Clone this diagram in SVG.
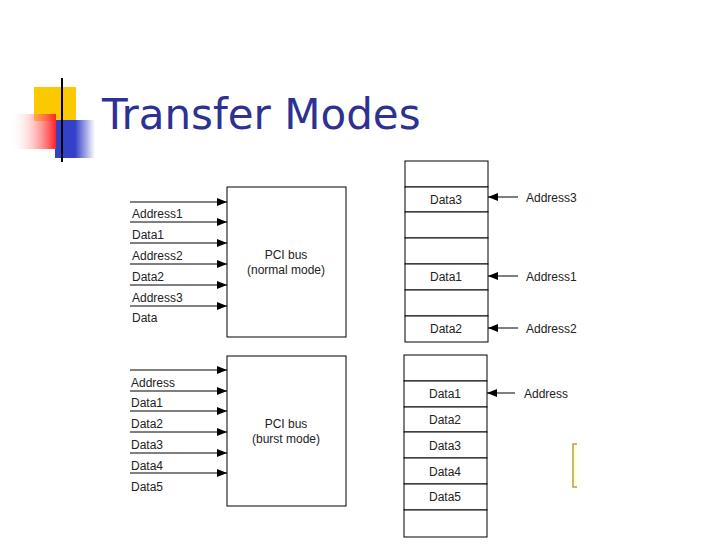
<svg xmlns="http://www.w3.org/2000/svg" width="728" height="546" viewBox="0 0 728 546">
<defs>
<marker id="ah" markerWidth="10" markerHeight="8" refX="10" refY="4" orient="auto" markerUnits="userSpaceOnUse"><path d="M0,0 L10,4 L0,8 Z" fill="#000"/></marker>
<linearGradient id="red" x1="0" x2="1"><stop offset="0" stop-color="#fff" stop-opacity="0"/><stop offset="1" stop-color="#f22"/></linearGradient>
<linearGradient id="blue" x1="0" x2="1"><stop offset="0.5" stop-color="#3340c8"/><stop offset="1" stop-color="#3340c8" stop-opacity="0"/></linearGradient>
<linearGradient id="rule" x1="0" x2="1"><stop offset="0" stop-color="#555"/><stop offset="1" stop-color="#ddd"/></linearGradient>
<style>
.b{fill:#fff;stroke:#000;stroke-width:1}
.t{font-family:"Liberation Sans",Arial,sans-serif;font-size:12px;fill:#222}
.c{text-anchor:middle}
.a{stroke:#000;stroke-width:1;marker-end:url(#ah)}
</style>
</defs>
<rect width="728" height="546" fill="#fff"/>
<g id="logo">
<rect x="34" y="87" width="42" height="34" fill="#fcc800"/>
<rect x="55" y="120" width="40" height="38" fill="url(#blue)"/>
<rect x="10" y="114" width="46" height="35" fill="url(#red)"/>
<line x1="62" y1="78" x2="62" y2="162" stroke="#000" stroke-width="2"/>
<line x1="35" y1="148" x2="728" y2="148" stroke="url(#rule)" stroke-width="2"/>
</g>
<text x="102" y="129" font-family="Tahoma,'DejaVu Sans',sans-serif" font-size="42" fill="#2e3192">Transfer Modes</text>
<g id="normal"><rect class="b" x="227" y="187" width="119" height="150"/><text class="t c" x="286" y="259">PCI bus</text><text class="t c" x="286" y="274">(normal mode)</text></g>
<g id="burst"><rect class="b" x="227" y="356" width="119" height="150"/><text class="t c" x="286" y="428">PCI bus</text><text class="t c" x="286" y="443">(burst mode)</text></g>
<g id="stack1">
<rect class="b" x="405" y="161" width="83" height="26"/>
<rect class="b" x="405" y="187" width="83" height="25"/><text class="t c" x="446" y="204">Data3</text>
<rect class="b" x="405" y="212" width="83" height="26"/>
<rect class="b" x="405" y="238" width="83" height="26"/>
<rect class="b" x="405" y="264" width="83" height="26"/><text class="t c" x="446" y="281">Data1</text>
<rect class="b" x="405" y="290" width="83" height="26"/>
<rect class="b" x="405" y="316" width="83" height="26"/><text class="t c" x="446" y="333">Data2</text>
</g>
<g id="stack2">
<rect class="b" x="404" y="355" width="83" height="26"/>
<rect class="b" x="404" y="381" width="83" height="26"/><text class="t c" x="445" y="398">Data1</text>
<rect class="b" x="404" y="407" width="83" height="25"/><text class="t c" x="445" y="424">Data2</text>
<rect class="b" x="404" y="432" width="83" height="26"/><text class="t c" x="445" y="450">Data3</text>
<rect class="b" x="404" y="458" width="83" height="26"/><text class="t c" x="445" y="476">Data4</text>
<rect class="b" x="404" y="484" width="83" height="26"/><text class="t c" x="445" y="501">Data5</text>
<rect class="b" x="404" y="510" width="83" height="27"/>
</g>
<g id="connectors">
<line class="a" x1="130" y1="202" x2="227" y2="202"/>
<line class="a" x1="130" y1="222" x2="227" y2="222"/>
<line class="a" x1="130" y1="243" x2="227" y2="243"/>
<line class="a" x1="130" y1="264" x2="227" y2="264"/>
<line class="a" x1="130" y1="285" x2="227" y2="285"/>
<line class="a" x1="130" y1="306" x2="227" y2="306"/>
<line class="a" x1="130" y1="370" x2="227" y2="370"/>
<line class="a" x1="130" y1="391" x2="227" y2="391"/>
<line class="a" x1="130" y1="411" x2="227" y2="411"/>
<line class="a" x1="130" y1="432" x2="227" y2="432"/>
<line class="a" x1="130" y1="453" x2="227" y2="453"/>
<line class="a" x1="130" y1="473" x2="227" y2="473"/>
<line class="a" x1="518" y1="197" x2="488" y2="197"/>
<line class="a" x1="518" y1="276" x2="488" y2="276"/>
<line class="a" x1="518" y1="328" x2="488" y2="328"/>
<line class="a" x1="515" y1="393" x2="487" y2="393"/>
</g>
<g id="labels">
<text class="t" x="132" y="218">Address1</text>
<text class="t" x="132" y="239">Data1</text>
<text class="t" x="132" y="260">Address2</text>
<text class="t" x="132" y="281">Data2</text>
<text class="t" x="132" y="302">Address3</text>
<text class="t" x="132" y="322">Data</text>
<text class="t" x="131" y="387">Address</text>
<text class="t" x="131" y="407">Data1</text>
<text class="t" x="131" y="428">Data2</text>
<text class="t" x="131" y="449">Data3</text>
<text class="t" x="131" y="470">Data4</text>
<text class="t" x="131" y="491">Data5</text>
<text class="t" x="526" y="202">Address3</text>
<text class="t" x="526" y="281">Address1</text>
<text class="t" x="526" y="333">Address2</text>
<text class="t" x="524" y="398">Address</text>
</g>
<path d="M577,444 H573 V487 H577" fill="#ffffd8" stroke="#b8a040" stroke-width="1.5"/>
</svg>
